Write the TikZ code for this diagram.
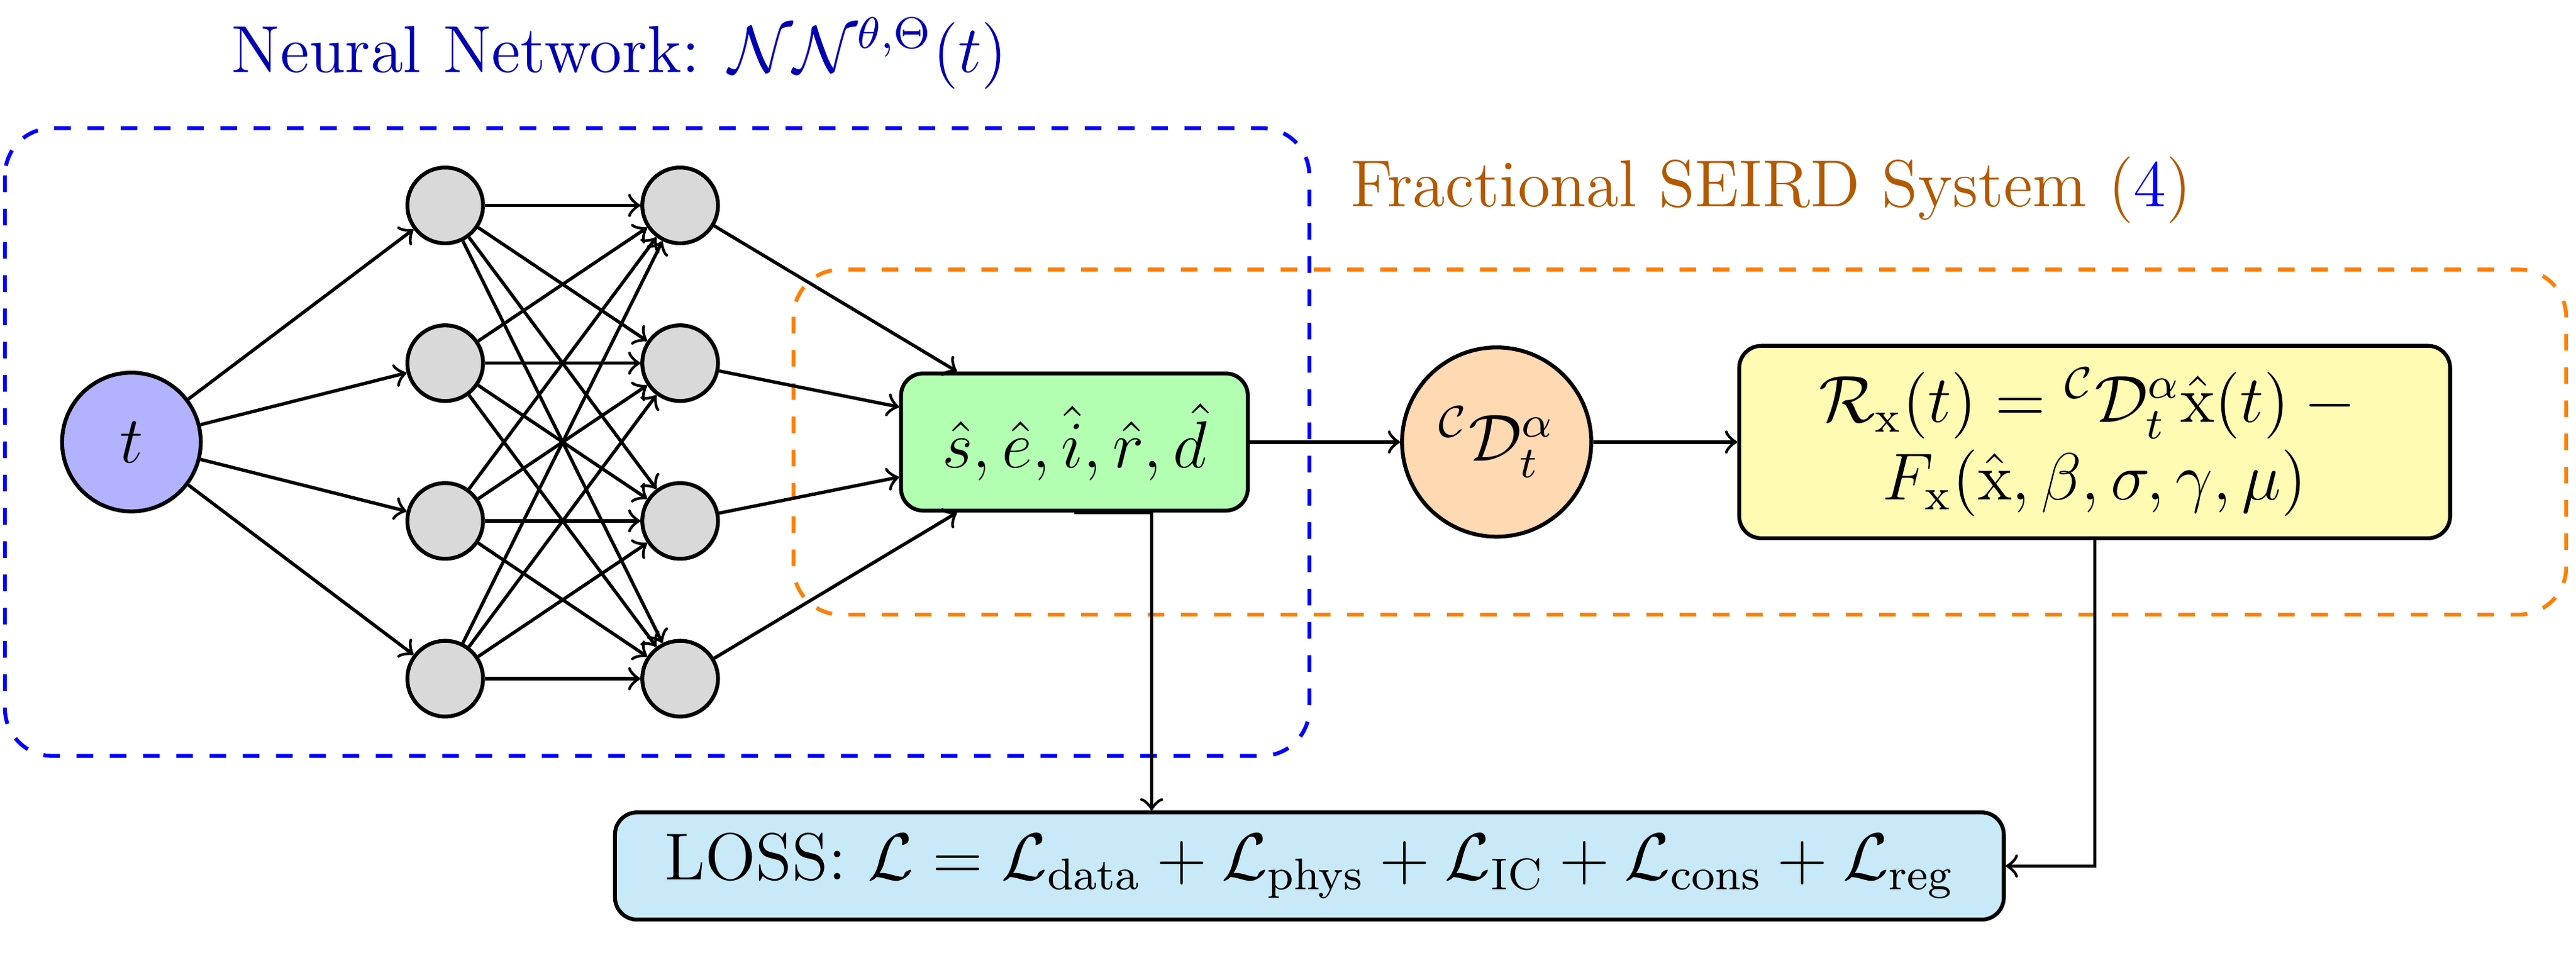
\documentclass[tikz,border=0pt]{standalone}
\usepackage{amsmath}
\usetikzlibrary{calc}
\definecolor{titleblue}{RGB}{0,0,179}
\definecolor{titleorange}{RGB}{179,89,0}
\definecolor{dashorange}{RGB}{255,128,0}
\definecolor{lossfill}{RGB}{200,233,248}
\begin{document}
\begin{tikzpicture}[x=0.01042cm,y=-0.01042cm,font=\large,
  conn/.style={->,line width=0.6pt},
  neuron/.style={circle,draw,line width=0.7pt,fill=gray!30,minimum size=0.48cm,inner sep=0pt},
  inputnode/.style={circle,draw,line width=0.7pt,fill=blue!30,minimum size=0.88cm,inner sep=0pt},
  outbox/.style={draw,line width=0.7pt,rounded corners=4pt,fill=green!30,minimum width=2.2cm,minimum height=0.87cm,inner sep=2pt},
  opnode/.style={circle,draw,line width=0.7pt,fill=orange!30,minimum size=1.2cm,inner sep=0pt},
  resbox/.style={draw,line width=0.7pt,rounded corners=4pt,fill=yellow!30,minimum width=4.51cm,minimum height=1.22cm,align=center,inner sep=2pt},
  lossbox/.style={draw,line width=0.7pt,rounded corners=4pt,fill=lossfill,minimum width=8.81cm,minimum height=0.68cm,inner sep=2pt},
  groupbox/.style={dashed,line width=0.7pt,rounded corners=0.3cm}]
\useasboundingbox (0,0) rectangle (1568,587);

% group frames
\draw[groupbox,blue] (3,78) rectangle (797,460);
\draw[groupbox,dashorange] (483,164) rectangle (1562,374);

% titles
\node[anchor=base,text=titleblue] (nntitle) at (377,44) {Neural Network: $\mathcal{N}\mathcal{N}^{\theta,\Theta}(t)$};
\node[anchor=base,text=titleorange] (systitle) at (1078,125.6) {Fractional SEIRD System (\textcolor{blue}{4})};

% network
\node[inputnode] (t) at (80,269) {$t$};
\foreach \k/\yy in {1/125,2/221,3/317,4/413}{
  \node[neuron] (h\k) at (271,\yy) {};
  \node[neuron] (g\k) at (414,\yy) {};
}
\node[outbox] (out) at (654,269) {$\hat{s},\hat{e},\hat{i},\hat{r},\hat{d}$};
\node[opnode] (op) at (911,269) {${}^{\mathcal{C}}\mathcal{D}_t^{\alpha}$};
\node[resbox] (res) at (1275,269) {$\mathcal{R}_{\mathrm{x}}(t) = {}^{\mathcal{C}}\mathcal{D}_t^{\alpha}\hat{\mathrm{x}}(t) -{}$\\ $F_{\mathrm{x}}(\hat{\mathrm{x}},\beta,\sigma,\gamma,\mu)$};
\node[lossbox] (loss) at (797,527) {LOSS: $\mathcal{L} = \mathcal{L}_{\text{data}} + \mathcal{L}_{\text{phys}} + \mathcal{L}_{\text{IC}} + \mathcal{L}_{\text{cons}} + \mathcal{L}_{\text{reg}}$};
\coordinate (lossin) at ($(loss.north)+(-96,0)$);

% connectors
\foreach \k in {1,...,4}{
  \draw[conn] (t) -- (h\k);
  \draw[conn] (g\k) -- (out);
  \foreach \m in {1,...,4}{
    \draw[conn] (h\k) -- (g\m);
  }
}
\draw[conn] (out) -- (op);
\draw[conn] (op) -- (res);
\draw[conn] (out.south) -| (lossin);
\draw[conn] (res.south) |- (loss.east);
\end{tikzpicture}
\end{document}
